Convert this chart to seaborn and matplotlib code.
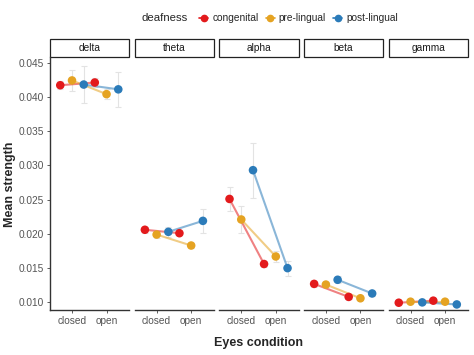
import numpy as np
import pandas as pd
import matplotlib
matplotlib.use("Agg")
import matplotlib.pyplot as plt
from matplotlib.lines import Line2D
from matplotlib.patches import Rectangle
import seaborn as sns

bands = ["delta", "theta", "alpha", "beta", "gamma"]
groups = ["congenital", "pre-lingual", "post-lingual"]
conditions = ["closed", "open"]

# mean strength per band
congenital_closed = [0.0417, 0.0206, 0.0251, 0.0127, 0.00995]
congenital_open = [0.0421, 0.0201, 0.0156, 0.0108, 0.01025]
prelingual_closed = [0.0424, 0.0199, 0.0221, 0.0126, 0.0101]
prelingual_open = [0.0404, 0.0183, 0.0167, 0.0106, 0.0101]
postlingual_closed = [0.0418, 0.0203, 0.0293, 0.0133, 0.0100]
postlingual_open = [0.0411, 0.0219, 0.0150, 0.0113, 0.0097]

# error bar half widths
congenital_closed_err = [0.0006, 0.0004, 0.0018, 0.0004, 0.0002]
congenital_open_err = [0.0006, 0.0003, 0.0005, 0.0003, 0.0002]
prelingual_closed_err = [0.0015, 0.0005, 0.0019, 0.0004, 0.0002]
prelingual_open_err = [0.0007, 0.0004, 0.0008, 0.0003, 0.0002]
postlingual_closed_err = [0.0027, 0.0007, 0.0040, 0.0005, 0.0002]
postlingual_open_err = [0.0026, 0.0017, 0.0011, 0.0004, 0.0002]

colors = {"congenital": "#E31A1C", "pre-lingual": "#E5A322", "post-lingual": "#2B7BB9"}

means = {
    ("congenital", "closed"): congenital_closed, ("congenital", "open"): congenital_open,
    ("pre-lingual", "closed"): prelingual_closed, ("pre-lingual", "open"): prelingual_open,
    ("post-lingual", "closed"): postlingual_closed, ("post-lingual", "open"): postlingual_open,
}
errs = {
    ("congenital", "closed"): congenital_closed_err, ("congenital", "open"): congenital_open_err,
    ("pre-lingual", "closed"): prelingual_closed_err, ("pre-lingual", "open"): prelingual_open_err,
    ("post-lingual", "closed"): postlingual_closed_err, ("post-lingual", "open"): postlingual_open_err,
}

rows = []
for (g, c), vals in means.items():
    for i, b in enumerate(bands):
        rows.append({"band": b, "deafness": g, "cond": c, "strength": vals[i],
                     "err": errs[(g, c)][i]})
df = pd.DataFrame(rows)

dodge = {"congenital": -0.34, "pre-lingual": 0.0, "post-lingual": 0.34}
df["x"] = df["cond"].map({"closed": 0, "open": 1}) + df["deafness"].map(dodge)

sns.set_style("white")
plt.rcParams["font.family"] = ["Liberation Sans", "DejaVu Sans"]

fig, axes = plt.subplots(1, 5, sharey=True, figsize=(4.74, 3.55), dpi=100)
fig.subplots_adjust(left=0.106, right=0.987, bottom=0.127, top=0.839, wspace=0.07)

for ax, b in zip(axes, bands):
    d = df[df["band"] == b]
    ax.errorbar(d["x"], d["strength"], yerr=d["err"], fmt="none",
                ecolor="#e3e3e3", elinewidth=0.8, capsize=2.2, capthick=0.8, zorder=1)
    sns.lineplot(data=d, x="x", y="strength", hue="deafness", palette=colors,
                 hue_order=groups, ax=ax, legend=False, linewidth=1.5, alpha=0.55,
                 sort=True, estimator=None, zorder=2)
    sns.scatterplot(data=d, x="x", y="strength", hue="deafness", palette=colors,
                    hue_order=groups, ax=ax, legend=False, s=38, edgecolor="none", zorder=3)
    ax.set_xlim(-0.63, 1.66)
    ax.set_ylim(0.0089, 0.0458)
    ax.set_xticks([0, 1])
    ax.set_xticklabels(conditions)
    ax.set_xlabel("")
    ax.set_ylabel("")
    for s in ["top", "right"]:
        ax.spines[s].set_visible(False)
    ax.spines["bottom"].set_color("#333333")
    ax.spines["bottom"].set_linewidth(1.0)
    ax.tick_params(axis="both", which="both", length=2.5, width=0.6, color="#444444",
                   labelsize=7.3, labelcolor="#555555", pad=2, bottom=True, left=True)
    # strip
    ax.add_patch(Rectangle((0, 1.0), 1, 0.071, transform=ax.transAxes, clip_on=False,
                           facecolor="white", edgecolor="#222222", linewidth=0.9))
    ax.text(0.5, 1.0355, b, transform=ax.transAxes, ha="center", va="center",
            fontsize=7.3, color="#1a1a1a")

axes[0].spines["left"].set_color("#333333")
axes[0].spines["left"].set_linewidth(1.0)
axes[0].set_yticks([0.010, 0.015, 0.020, 0.025, 0.030, 0.035, 0.040, 0.045])
axes[0].set_yticklabels(["0.010", "0.015", "0.020", "0.025", "0.030", "0.035", "0.040", "0.045"])
for ax in axes[1:]:
    ax.spines["left"].set_visible(False)
    ax.tick_params(axis="y", left=False)

fig.text(0.022, 0.48, "Mean strength", rotation=90, ha="center", va="center",
         fontsize=9, fontweight="bold")
fig.text(0.546, 0.035, "Eyes condition", ha="center", va="center",
         fontsize=9, fontweight="bold")

handles = [Line2D([0], [0], color=colors[g], marker="o", markersize=4.5, linewidth=1.2)
           for g in groups]
fig.text(0.298, 0.948, "deafness", ha="left", va="center", fontsize=8.2)
fig.legend(handles, groups, loc="center left", bbox_to_anchor=(0.42, 0.948), ncol=3,
           frameon=False, fontsize=7.3, handlelength=0.9, handletextpad=0.4,
           columnspacing=0.7, borderpad=0, borderaxespad=0)

fig.savefig("out.png", dpi=100)
